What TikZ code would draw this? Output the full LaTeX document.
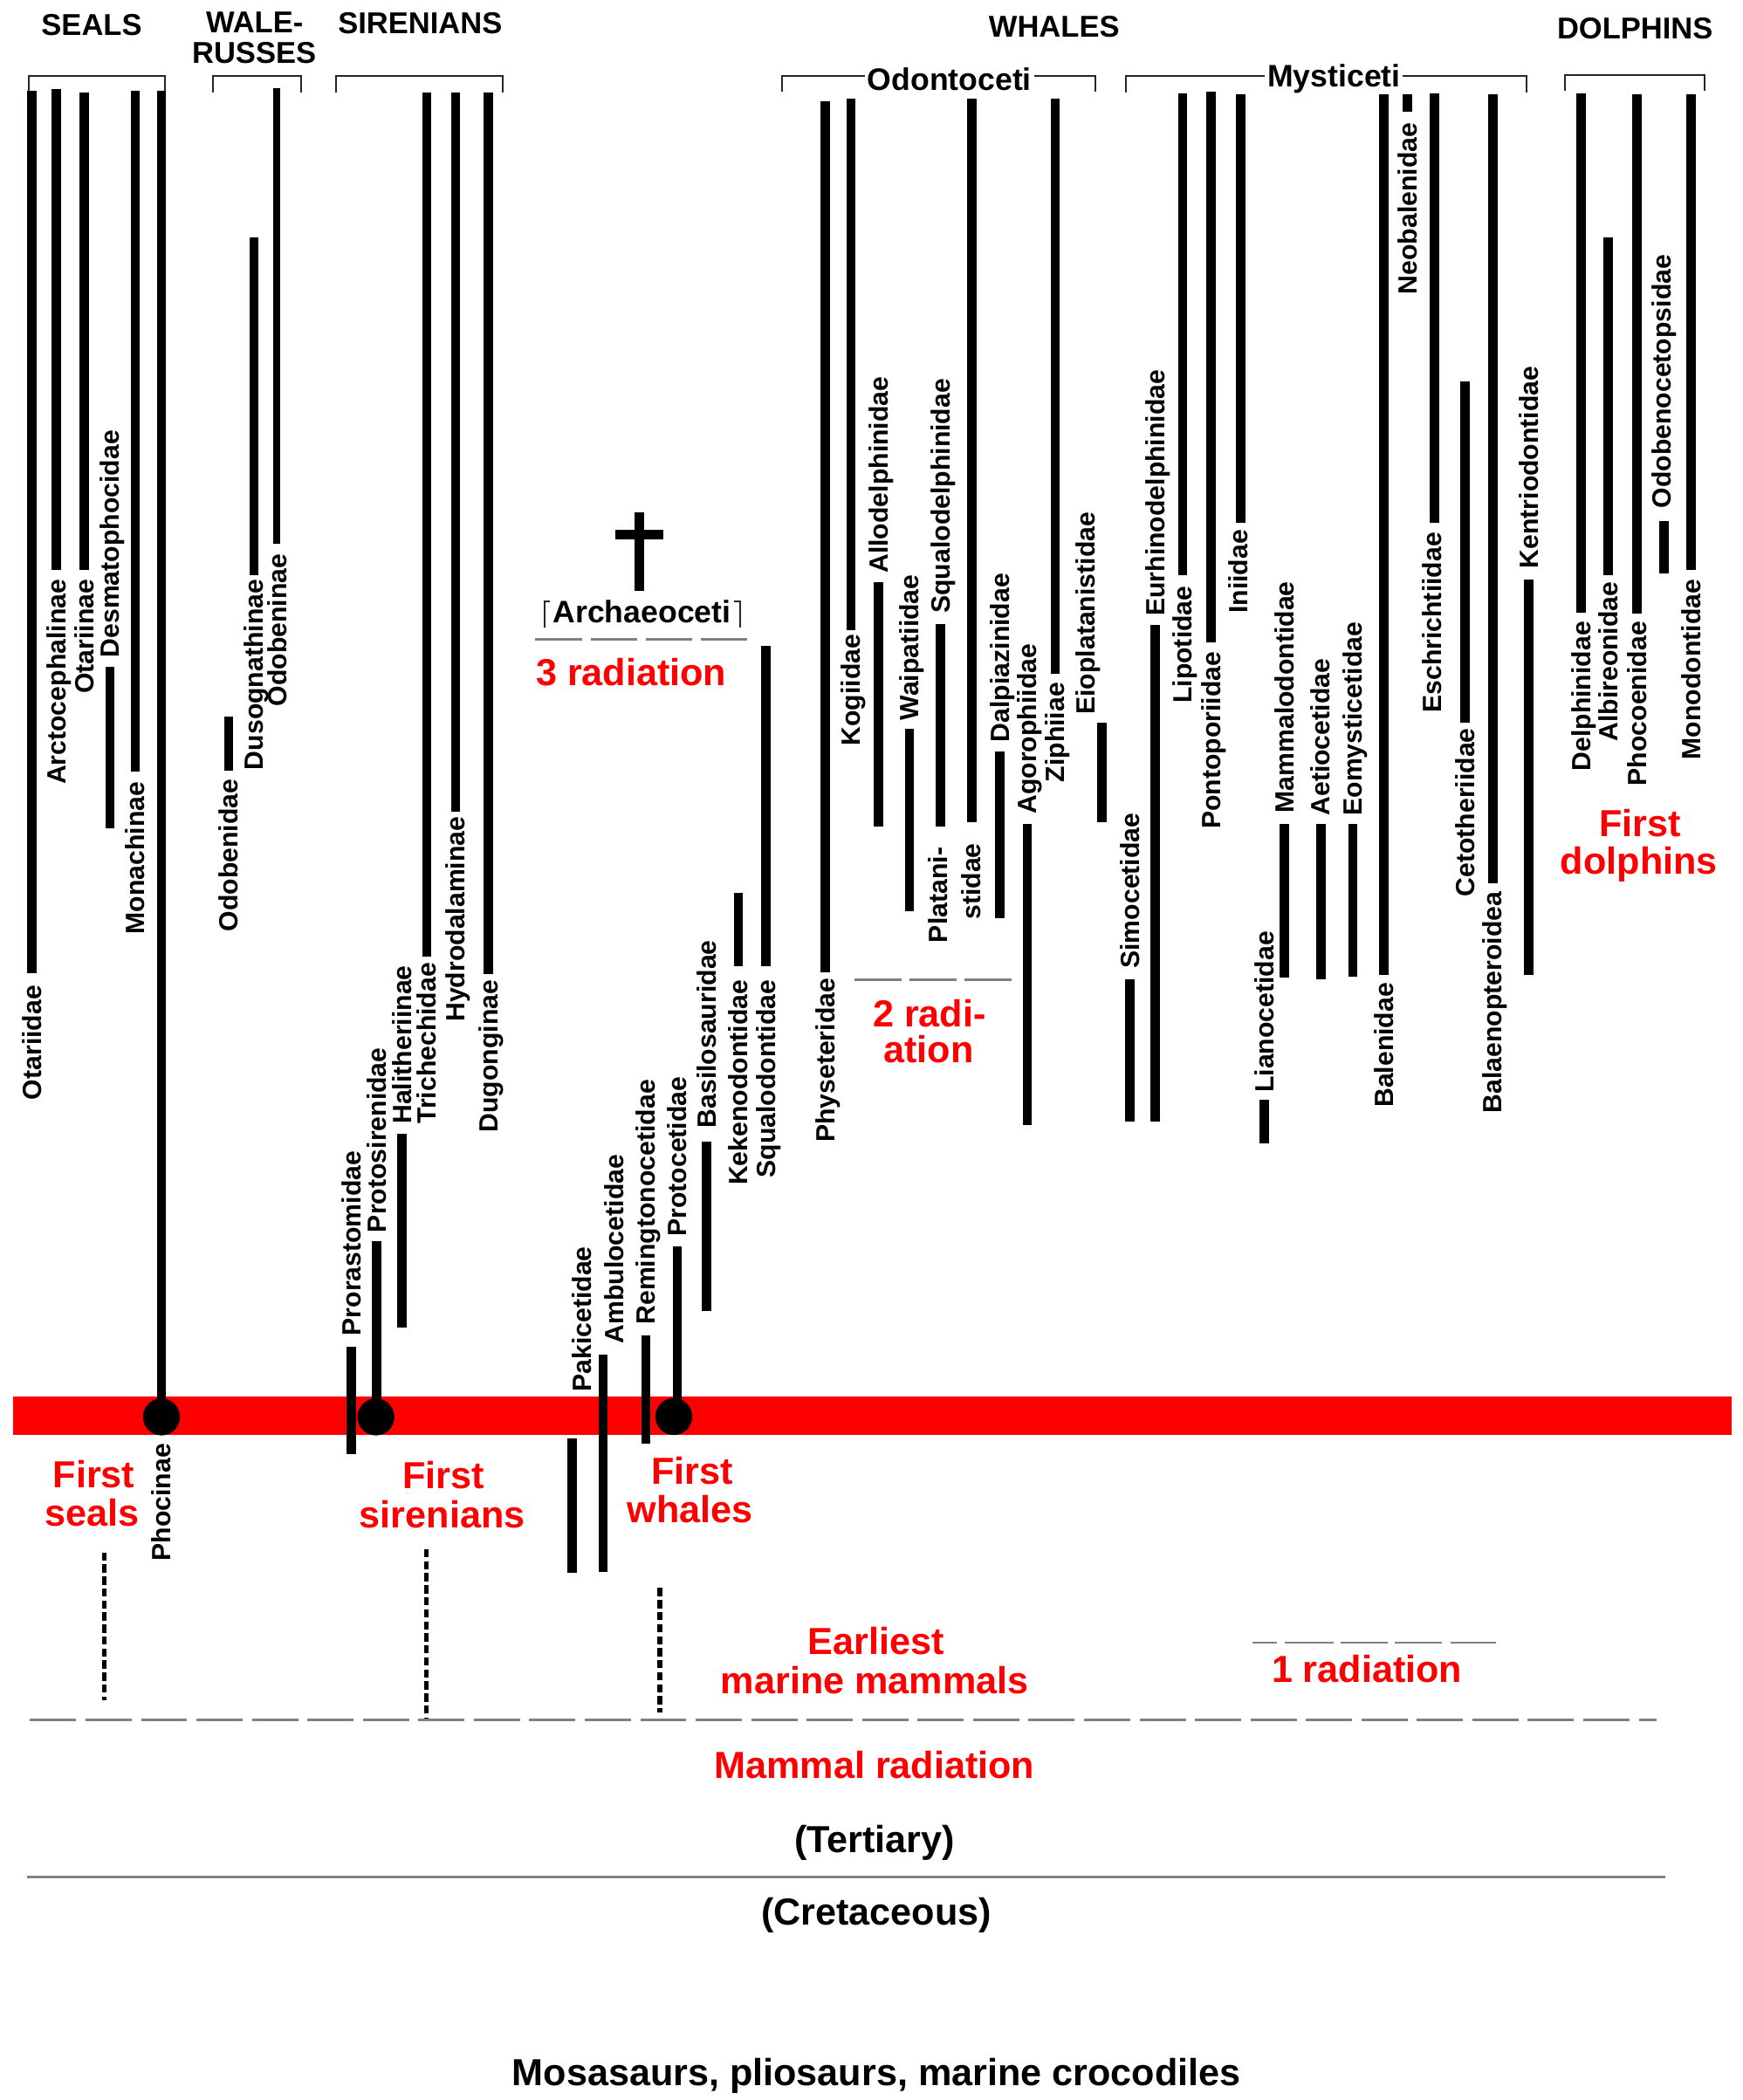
\documentclass[tikz,border=0pt]{standalone}
\usepackage{fontspec}
\setmainfont{Liberation Sans}
\definecolor{dgray}{HTML}{808080}
\tikzset{
 bar/.style={line width=3.98pt, black},
 thinbar/.style={line width=2.85pt, black},
 lab/.style={rotate=90, inner sep=0pt, font=\fontsize{11.2}{12}\selectfont\bfseries, text height=8pt, text depth=0pt},
 hdr/.style={inner sep=0pt, anchor=base, font=\fontsize{12.8}{13}\selectfont\bfseries},
 sub/.style={inner sep=0pt, inner xsep=1pt, anchor=base, fill=white, font=\fontsize{13.2}{14}\selectfont\bfseries},
 redt/.style={inner sep=0pt, anchor=base, text=red, font=\fontsize{16}{17}\selectfont\bfseries},
 blkt/.style={inner sep=0pt, anchor=base, font=\fontsize{16}{17}\selectfont\bfseries},
 brk/.style={line width=0.75pt, black!85},
 gdash/.style={line width=1.1pt, dgray},
 vdash/.style={line width=1.9pt, dash pattern=on 3.5pt off 1.6pt},
}
% id, x, top, bottom, label y, text
\newcommand\taxB[6]{\draw[bar] (#2,#3) -- (#2,#4);
  \node[lab,anchor=east] (#1) at (#2,#5) {#6};}
\newcommand\taxA[6]{\draw[bar] (#2,#3) -- (#2,#4);
  \node[lab,anchor=west] (#1) at (#2,#5) {#6};}
\begin{document}
\begin{tikzpicture}[x=0.02cm,y=-0.02cm]
\useasboundingbox[fill=white] (0,0) rectangle (1300,1567);
% red band
\fill[red] (9.7,1041.8) rectangle (1292.3,1071);
% headers
\node[hdr] (seals) at (68.4,26.3) {SEALS};
\node[hdr] (wale) at (190,24.6) {WALE-};
\node[hdr] (russes) at (189.6,46.9) {RUSSES};
\node[hdr] (sirenians) at (313.5,25.3) {SIRENIANS};
\node[hdr] (whales) at (786.6,28) {WHALES};
\node[hdr] (dolphins) at (1220,29) {DOLPHINS};
% brackets
\draw[brk] (21.5,69) -- (21.5,56.5) -- (123,56.5) -- (123,69);
\draw[brk] (159,69) -- (159,56.5) -- (225,56.5) -- (225,69);
\draw[brk] (251,69) -- (251,56.5) -- (375,56.5) -- (375,69);
\draw[brk] (583.6,68.6) -- (583.6,56.8) -- (817.6,56.8) -- (817.6,68.6);
\node[sub] (odontoceti) at (708.5,67.3) {Odontoceti};
\draw[brk] (840.4,68.8) -- (840.4,56.7) -- (1138.9,56.7) -- (1138.9,68.8);
\node[sub] (mysticeti) at (995.4,65) {Mysticeti};
\draw[brk] (1168,68) -- (1168,55.9) -- (1272,55.9) -- (1272,68);
% Seals
\taxB{otariidae}{24}{68}{726}{735}{Otariidae}
\taxB{arctocephalinae}{42}{66.5}{425}{432}{Arctocephalinae}
\taxB{otariinae}{63}{69}{425}{432}{Otariinae}
\taxA{desmatophocidae}{82}{497.5}{618}{491}{Desmatophocidae}
\taxB{monachinae}{101}{68}{576}{583}{Monachinae}
\draw[bar] (120.5,68) -- (120.5,1057);
\node[lab,anchor=east] (phocinae) at (120.5,1077) {Phocinae};
% Walruses
\taxB{odobenidae}{170.7}{535}{575}{581}{Odobenidae}
\taxB{dusognathinae}{189.5}{177}{429}{432}{Dusognathinae}
\draw[thinbar] (206.6,66) -- (206.6,406);
\node[lab,anchor=east] (odobeninae) at (206.6,413) {Odobeninae};
% Sirenians
\taxA{prorastomidae}{262}{1005}{1085}{997}{Prorastomidae}
\draw[bar] (281,926) -- (281,1057);
\node[lab,anchor=west] (protosirenidae) at (281,920) {Protosirenidae};
\taxA{halitheriinae}{300}{846}{990.6}{839}{Halitheriinae}
\taxB{trichechidae}{318.5}{69}{714}{718}{Trichechidae}
\taxB{hydrodalaminae}{340}{69}{606}{609}{Hydrodalaminae}
\taxB{dugonginae}{364.6}{69}{727}{731}{Dugonginae}
% Archaeoceti
\draw[bar] (477,382) -- (477,440.6);
\draw[bar] (459,399) -- (495,399);
\node[sub,fill=none] (archaeoceti) at (479,464.5) {Archaeoceti};
\draw[brk] (406.2,468) -- (406.2,449) -- (410.5,449);
\draw[brk] (552.3,468) -- (552.3,449) -- (548,449);
\foreach \a/\b in {399/434.5, 440.6/475.5, 482/516.5, 523/557.5}
  \draw[gdash] (\a,477) -- (\b,477);
\node[redt] (rad3) at (471,511.5) {3 radiation};
\draw[bar] (427,1073.5) -- (427,1173.5);
\node[lab,anchor=west] (pakicetidae) at (434.5,1038.8) {Pakicetidae};
\draw[bar] (450,1011) -- (450,1173);
\node[lab,anchor=west] (ambulocetidae) at (458,1003) {Ambulocetidae};
\taxA{remingtonocetidae}{482}{996.4}{1077}{988.7}{Remingtonocetidae}
\draw[bar] (505.4,930) -- (505.4,1056);
\node[lab,anchor=west] (protocetidae) at (505.4,923) {Protocetidae};
\taxA{basilosauridae}{527.4}{852}{978}{842}{Basilosauridae}
\taxB{kekenodontidae}{551}{666}{720.7}{731}{Kekenodontidae}
\taxB{squalodontidae}{571.5}{482}{720.7}{731}{Squalodontidae}
% Odontoceti
\taxB{physeteridae}{616}{75.3}{725.6}{729.6}{Physeteridae}
\taxB{kogiidae}{635}{73.5}{470.5}{473}{Kogiidae}
\taxA{allodelphinidae}{655.7}{434.6}{617}{428}{Allodelphinidae}
\taxA{waipatiidae}{678.6}{544}{680}{537.8}{Waipatiidae}
\taxA{squalodelphinidae}{701.8}{465.5}{617}{458}{Squalodelphinidae}
\draw[bar] (725,73.5) -- (725,613.5);
\node[lab,anchor=east] (platani) at (700,632) {Platani-};
\node[lab,anchor=east] (stidae) at (725,629) {stidae};
\taxA{dalpiazinidae}{746}{561}{685}{554}{Dalpiazinidae}
\taxA{agorophiidae}{766.6}{615}{839.4}{607.7}{Agorophiidae}
\taxB{ziphiiae}{787.4}{73.5}{502.6}{509}{Ziphiiae}
\draw[bar] (822,539.5) -- (822,613.3);
\node[lab,anchor=west] (eioplatanistidae) at (810,533.5) {Eioplatanistidae};
\foreach \a/\b in {637.6/672.5, 678.7/713.6, 719.7/754.7}
  \draw[gdash] (\a,731) -- (\b,731);
\node[redt] (rad2a) at (693.6,766) {2 radi-};
\node[redt] (rad2b) at (693,793) {ation};
% Mysticeti
\taxA{simocetidae}{843}{731}{837}{723}{Simocetidae}
\taxA{eurhinodelphinidae}{862}{466}{837}{460}{Eurhinodelphinidae}
\taxB{lipotidae}{882.4}{69.7}{429.5}{437}{Lipotidae}
\taxB{pontoporiidae}{903.5}{68.6}{479.4}{486}{Pontoporiidae}
\draw[bar] (926,70.6) -- (926,390.4);
\node[lab,anchor=east] (iniidae) at (924,395) {Iniidae};
\taxA{lianocetidae}{943.5}{820.6}{853}{815.6}{Lianocetidae}
\taxA{mammalodontidae}{958.4}{614.6}{729.6}{607}{Mammalodontidae}
\taxA{aetiocetidae}{985.5}{614.6}{731}{609}{Aetiocetidae}
\taxA{eomysticetidae}{1009.5}{614.6}{728.8}{609}{Eomysticetidae}
\taxB{balenidae}{1032.7}{70.6}{727.7}{733}{Balenidae}
\taxB{neobalenidae}{1050.2}{70.6}{83.6}{91.4}{Neobalenidae}
\draw[bar] (1070.6,70) -- (1070.6,390.4);
\node[lab,anchor=east] (eschrichtiidae) at (1068.5,397) {Eschrichtiidae};
\taxB{cetotheriidae}{1093.2}{284.4}{539}{543}{Cetotheriidae}
\taxB{balaenopteroidea}{1113.8}{70.6}{659}{665}{Balaenopteroidea}
\taxA{kentriodontidae}{1140.8}{432.2}{727.4}{424.5}{Kentriodontidae}
% Dolphins
\taxB{delphinidae}{1179.8}{69.7}{457}{463.5}{Delphinidae}
\draw[bar] (1200,177.2) -- (1200,429);
\node[lab,anchor=east] (albireonidae) at (1200,433.8) {Albireonidae};
\taxB{phocoenidae}{1221.6}{70.6}{458}{463.5}{Phocoenidae}
\draw[bar] (1241.7,388.8) -- (1241.7,427.6);
\node[lab,anchor=west] (odobenocetopsidae) at (1240,379.6) {Odobenocetopsidae};
\taxB{monodontidae}{1261.8}{70.6}{425.5}{432}{Monodontidae}
\node[redt] (fd1) at (1224,624) {First};
\node[redt] (fd2) at (1223,652) {dolphins};
% origin dots
\fill (120.5,1057.3) circle[radius=0.276cm];
\fill (280.5,1057.3) circle[radius=0.276cm];
\fill (502.8,1057) circle[radius=0.276cm];
% below band
\node[redt] (fs1) at (70,1110) {First};
\node[redt] (fs2) at (69,1138.6) {seals};
\node[redt] (fsi1) at (331,1111) {First};
\node[redt] (fsi2) at (330,1140) {sirenians};
\node[redt] (fw1) at (516.5,1107.7) {First};
\node[redt] (fw2) at (515,1136) {whales};
\draw[vdash] (77.6,1158.4) -- (77.6,1268.7);
\draw[vdash] (318.2,1156) -- (318.2,1282.6);
\draw[vdash] (492.4,1185) -- (492.4,1278);
\node[redt] (earliest1) at (653.5,1234.8) {Earliest};
\node[redt] (earliest2) at (652.7,1263.5) {marine mammals};
\foreach \a/\b in {934.8/952.5, 958.5/995.4, 1000.4/1035.8, 1040.9/1076.2, 1082.7/1116.6}
  \draw[gdash] (\a,1225.7) -- (\b,1225.7);
\node[redt] (rad1) at (1020,1255.5) {1 radiation};
\draw[gdash, dash pattern=on 19.63pt off 3.93pt] (22.4,1283.5) -- (1236.3,1283.5);
\node[redt] (mammalrad) at (652.5,1327) {Mammal radiation};
\node[blkt] (tertiary) at (652.7,1382.6) {(Tertiary)};
\draw[gdash] (20,1400.8) -- (1242.7,1400.8);
\node[blkt] (cretaceous) at (654,1436.7) {(Cretaceous)};
\node[blkt] (mosasaurs) at (654,1556) {Mosasaurs, pliosaurs, marine crocodiles};
\end{tikzpicture}
\end{document}
